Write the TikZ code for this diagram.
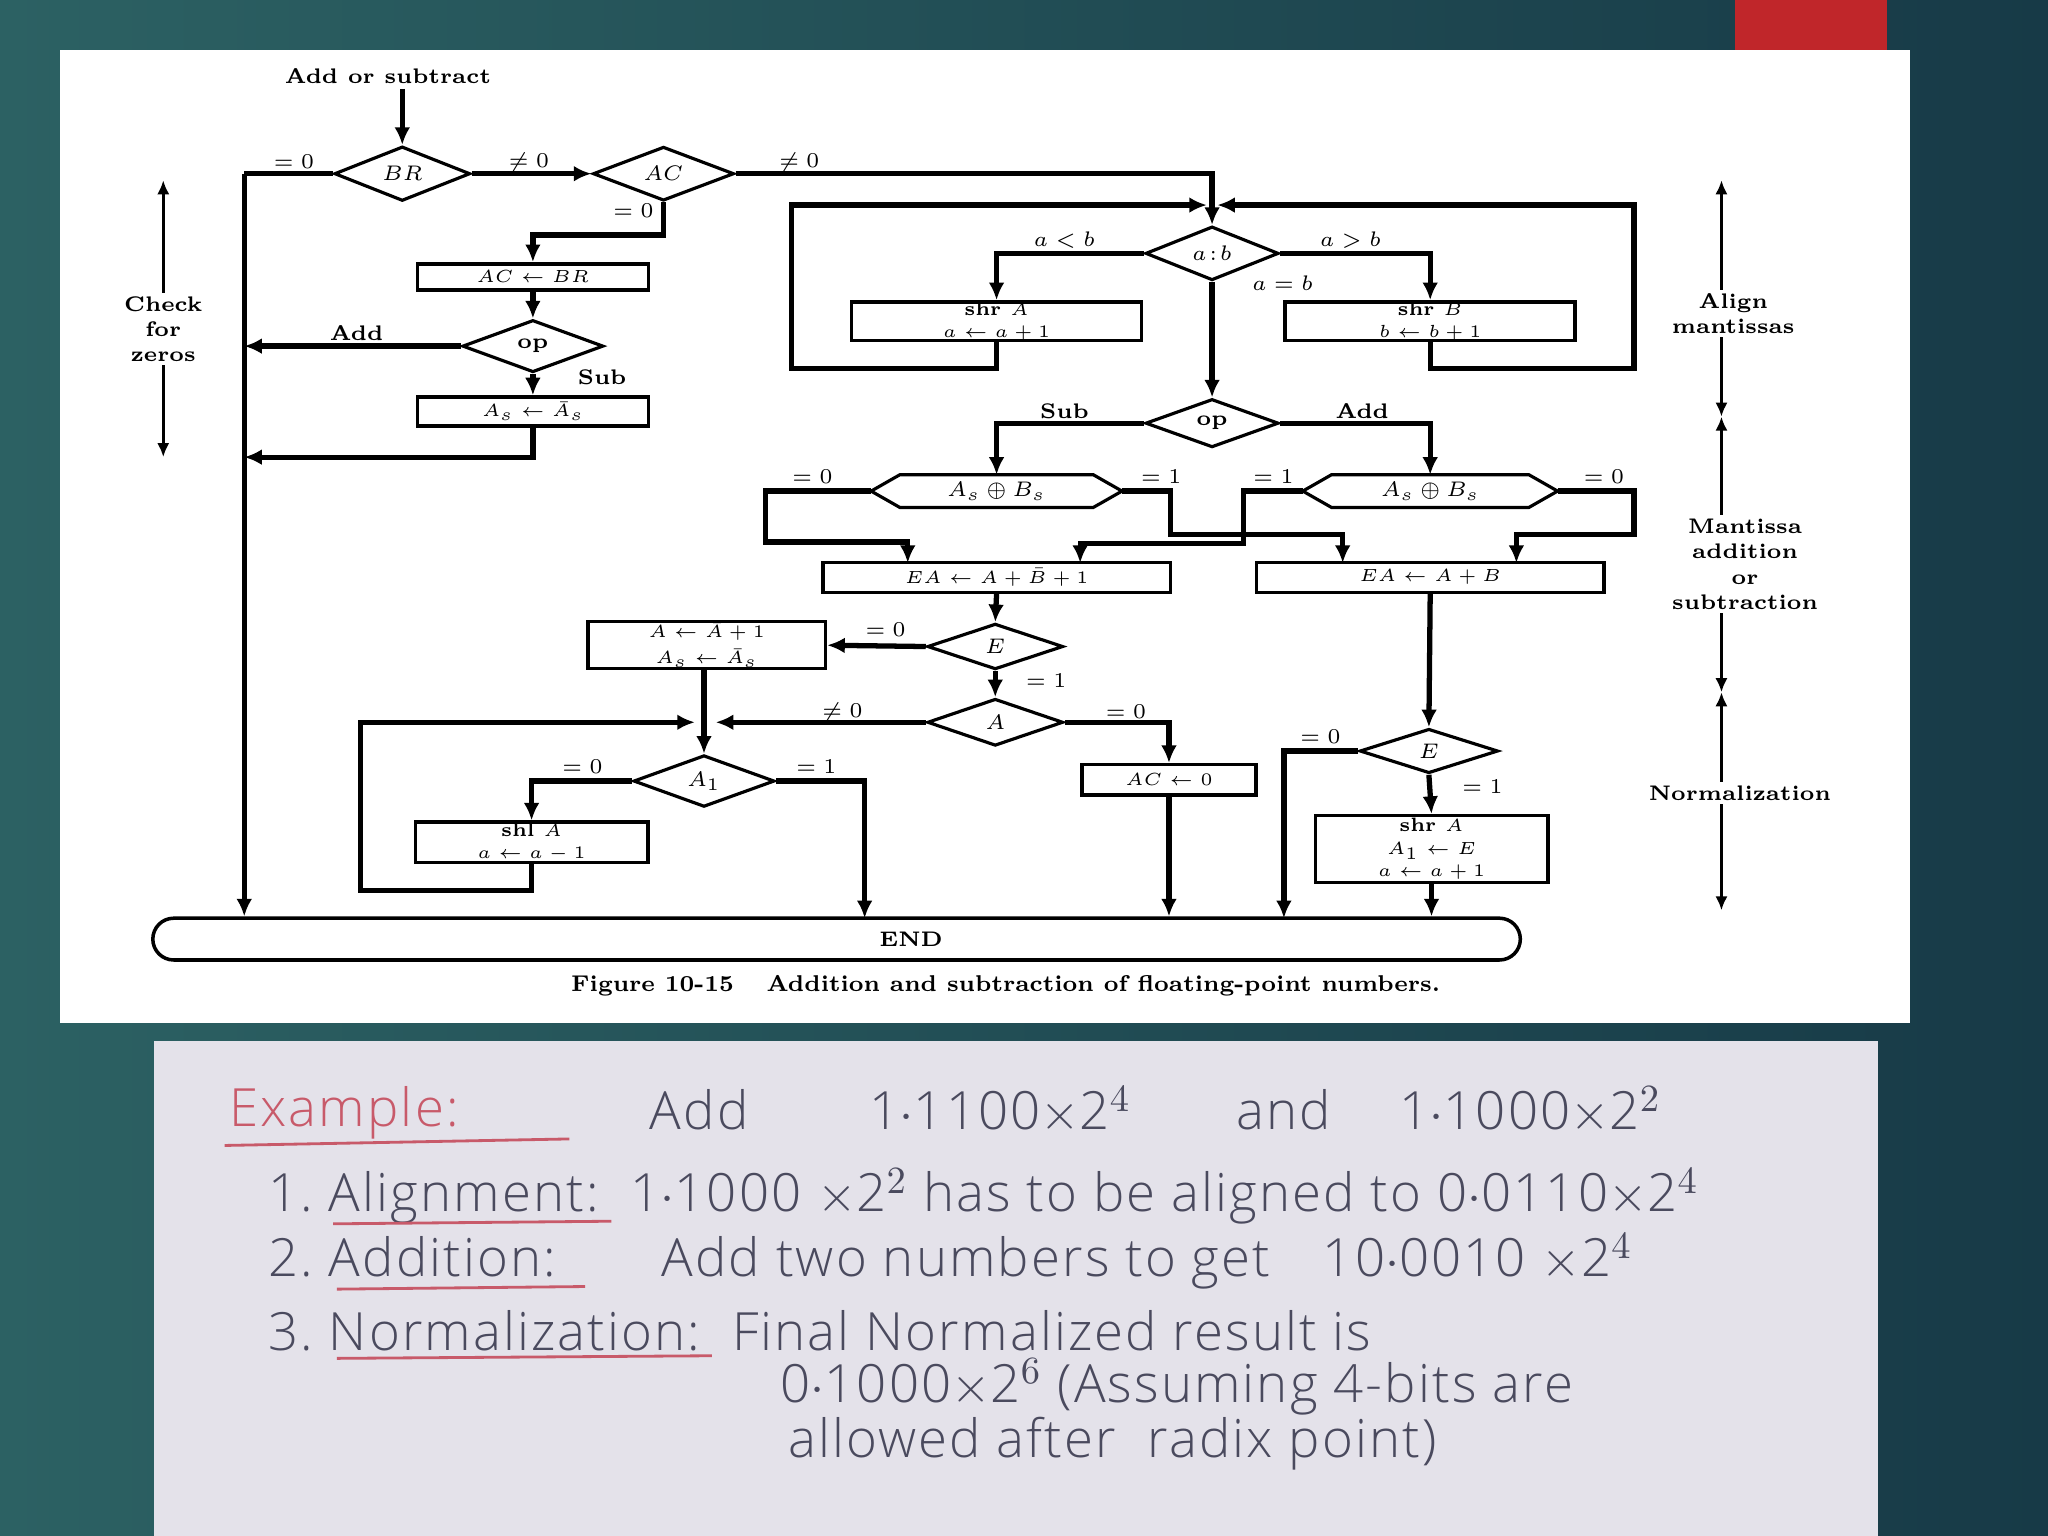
\documentclass[tikz,border=0pt]{standalone}
\usepackage{fontspec}
\usepackage{amsmath}
\newfontfamily\hand[LetterSpace=4]{Open Sans Light}
\usetikzlibrary{shapes.geometric,arrows.meta}
\newcommand\myu{0.013061cm}
\definecolor{bgA}{HTML}{2C6163}
\definecolor{bgB}{HTML}{173A47}
\definecolor{board}{HTML}{E4E2EA}
\definecolor{ink}{HTML}{4A4A5E}
\definecolor{redink}{HTML}{C85A6A}
\definecolor{redbar}{HTML}{C0262A}
\tikzset{
  flow/.style={line width=1.5pt,-{Latex[length=5pt,width=4.5pt]}},
  fl/.style={line width=1.5pt},
  dia/.style={diamond,draw,line width=0.9pt,inner sep=0pt,font=\bfseries\fontsize{6}{7}\selectfont},
  bx/.style={rectangle,draw,line width=1pt,inner sep=0pt,align=center,font=\bfseries\fontsize{5.5}{6.4}\selectfont},
  lb/.style={font=\bfseries\fontsize{6}{7}\selectfont,inner sep=1pt},
  side/.style={font=\bfseries\fontsize{6}{7.2}\selectfont,align=center,fill=white,inner sep=1pt},
  sarr/.style={line width=0.8pt,{Latex[length=4pt,width=3.5pt]}-{Latex[length=4pt,width=3.5pt]}},
  hw/.style={font=\hand\fontsize{15}{17}\selectfont,text=ink,anchor=west,inner sep=0pt},
}
\begin{document}
\begin{tikzpicture}[x=0.013061cm,y=-0.013061cm]
\useasboundingbox (0,0) rectangle (1568,1176);
\shade[left color=bgA,right color=bgB] (0,0) rectangle (1568,1176);
\fill[redbar] (1328,0) rectangle (1445,38);
\fill[white] (46,38) rectangle (1462,783);
\fill[board] (118,797) rectangle (1438,1176);

% ---- nodes
\node[lb] (title) at (297,58) {Add or subtract};
\coordinate (start) at (308,68);
\node[dia,minimum width=104*\myu,minimum height=40*\myu] (br) at (308,133) {$BR$};
\node[dia,minimum width=108*\myu,minimum height=40*\myu] (ac) at (508,133) {$AC$};
\node[bx,minimum width=177*\myu,minimum height=20*\myu] (acbr) at (408,212) {$AC \leftarrow BR$};
\node[dia,minimum width=108*\myu,minimum height=40*\myu] (op1) at (408,265) {op};
\node[bx,minimum width=177*\myu,minimum height=22*\myu] (asbox) at (408,315) {$A_s \leftarrow \bar{A}_s$};
\node[dia,minimum width=102*\myu,minimum height=36*\myu] (ab) at (928,194) {$a\!:\!b$};
\node[bx,minimum width=222*\myu,minimum height=28*\myu] (shra) at (763,246) {shr $A$\\$a \leftarrow a+1$};
\node[bx,minimum width=222*\myu,minimum height=28*\myu] (shrb) at (1095,246) {shr $B$\\$b \leftarrow b+1$};
\node[dia,minimum width=102*\myu,minimum height=37*\myu] (op2) at (928,324) {op};
\node[lb,minimum width=191*\myu,minimum height=24*\myu] (h1) at (763,376) {$A_s \oplus B_s$};
\node[lb,minimum width=194*\myu,minimum height=24*\myu] (h2) at (1095,376) {$A_s \oplus B_s$};
\draw[line width=0.9pt] (h1.west) -- ([xshift=22*\myu]h1.north west) -- ([xshift=-22*\myu]h1.north east) -- (h1.east) -- ([xshift=-22*\myu]h1.south east) -- ([xshift=22*\myu]h1.south west) -- cycle;
\draw[line width=0.9pt] (h2.west) -- ([xshift=22*\myu]h2.north west) -- ([xshift=-22*\myu]h2.north east) -- (h2.east) -- ([xshift=-22*\myu]h2.south east) -- ([xshift=22*\myu]h2.south west) -- cycle;
\node[bx,minimum width=266*\myu,minimum height=23*\myu] (ea1) at (763,442) {$EA \leftarrow A+\bar{B}+1$};
\node[bx,minimum width=266*\myu,minimum height=23*\myu] (ea2) at (1095,442) {$EA \leftarrow A+B$};
\node[dia,minimum width=104*\myu,minimum height=35*\myu] (e1) at (762,495) {$E$};
\node[bx,minimum width=182*\myu,minimum height=36*\myu,font=\bfseries\fontsize{5.5}{7.4}\selectfont] (comp) at (541,494) {$A \leftarrow \bar{A}+1$\\$A_s \leftarrow \bar{A}_s$};
\node[dia,minimum width=104*\myu,minimum height=36*\myu] (adia) at (762,553) {$A$};
\node[dia,minimum width=108*\myu,minimum height=35*\myu] (a1) at (539,598) {$A_1$};
\node[bx,minimum width=178*\myu,minimum height=31*\myu] (shl) at (407,645) {shl $A$\\$a \leftarrow a-1$};
\node[bx,minimum width=133*\myu,minimum height=23*\myu] (ac0) at (895,597) {$AC \leftarrow 0$};
\node[dia,minimum width=106*\myu,minimum height=34*\myu] (e2) at (1094,575) {$E$};
\node[bx,minimum width=178*\myu,minimum height=51*\myu] (shr3) at (1096,650) {shr $A$\\$A_1 \leftarrow E$\\$a \leftarrow a+1$};
\node[draw,line width=1pt,rounded corners=16*\myu,minimum width=1047*\myu,minimum height=32*\myu,inner sep=0pt,font=\bfseries\fontsize{6}{7}\selectfont] (end) at (640.5,719) {\hspace*{1.49cm}END};
\node[font=\bfseries\fontsize{6.5}{8}\selectfont] (cap) at (770,755) {Figure 10-15\quad\ Addition and subtraction of floating-point numbers.};

% ---- coordinates
\coordinate (bus) at (187,133);
\coordinate (c1) at (508,180);
\coordinate (c2) at (408,350);
\coordinate (la) at (606,282);
\coordinate (lb1) at (606,157);
\coordinate (ra) at (1251,282);
\coordinate (rb) at (1251,157);
\coordinate (mid) at (928,157);

% ---- connectors
\draw[flow] (start) -- (br.north);
\draw[fl] (br.west) -- (bus);
\draw[flow] (bus) -- (bus |- end.north);
\draw[flow] (br.east) -- (ac.west);
\draw[flow] (ac.east) -| (ab.north);
\draw[flow] (ac.south) -- (c1) -| (acbr.north);
\draw[flow] (acbr.south) -- (op1.north);
\draw[flow] (op1.west) -- (op1.west -| bus);
\draw[flow] (op1.south) -- (asbox.north);
\draw[flow] (asbox.south) -- (c2) -- (c2 -| bus);
\draw[flow] (ab.west) -| (shra.north);
\draw[flow] (ab.east) -| (shrb.north);
\draw[flow] (shra.south) -- (shra.south |- la) -- (la) -- (lb1) -- ([xshift=-4*\myu]mid);
\draw[flow] (shrb.south) -- (shrb.south |- ra) -- (ra) -- (rb) -- ([xshift=4*\myu]mid);
\draw[flow] (ab.south) -- (op2.north);
\draw[flow] (op2.west) -| (h1.north);
\draw[flow] (op2.east) -| (h2.north);
\draw[flow] (h1.west) -- (586,376) -- (586,415) -- (695,415) -- (695,431);
\draw[flow] (h1.east) -- (896,376) -- (896,409) -- (1028,409) -- (1028,431);
\draw[flow] (h2.west) -- (952,376) -- (952,416) -- (827,416) -- (827,431);
\draw[flow] (h2.east) -- (1251,376) -- (1251,409) -- (1161,409) -- (1161,431);
\draw[flow] (ea1.south) -- (e1.north);
\draw[flow] (e1.west) -- (comp.east);
\draw[flow] (e1.south) -- (adia.north);
\draw[flow] (comp.south -| a1.north) -- (a1.north);
\draw[flow] (adia.west) -- (548,553);
\draw[flow] (shl.south) -- (407,682) -- (276,682) -- (276,553) -- (532,553);
\draw[flow] (a1.west) -| (shl.north);
\draw[flow] (a1.east) -| (662,703);
\draw[flow] (adia.east) -| (ac0.north);
\draw[flow] (ac0.south) -- (ac0.south |- end.north);
\draw[flow] (ea2.south) -- (e2.north);
\draw[flow] (e2.west) -| (983,703);
\draw[flow] (e2.south) -- (shr3.north);
\draw[flow] (shr3.south) -- (shr3.south |- end.north);

% ---- branch labels
\node[lb] at (225,124) {$=0$};
\node[lb] at (405,124) {$\neq 0$};
\node[lb] at (612,124) {$\neq 0$};
\node[lb] at (485,161) {$=0$};
\node[lb] at (273,255) {Add};
\node[lb] at (461,289) {Sub};
\node[lb] at (815,184) {$a<b$};
\node[lb] at (1034,184) {$a>b$};
\node[lb] at (982,217) {$a=b$};
\node[lb] at (815,315) {Sub};
\node[lb] at (1043,315) {Add};
\node[lb] at (622,365) {$=0$};
\node[lb] at (889,365) {$=1$};
\node[lb] at (975,365) {$=1$};
\node[lb] at (1228,365) {$=0$};
\node[lb] at (678,482) {$=0$};
\node[lb] at (801,521) {$=1$};
\node[lb] at (645,545) {$\neq 0$};
\node[lb] at (862,545) {$=0$};
\node[lb] at (446,587) {$=0$};
\node[lb] at (625,587) {$=1$};
\node[lb] at (1011,564) {$=0$};
\node[lb] at (1135,602) {$=1$};

% ---- side annotations
\draw[sarr] (125,138) -- (125,350);
\node[side] at (125,252) {Check\\for\\zeros};
\draw[sarr] (1318,138) -- (1318,319);
\draw[sarr] (1318,319) -- (1318,530);
\draw[sarr] (1318,530) -- (1318,697);
\node[side] at (1327,240) {Align\\mantissas};
\node[side] at (1336,432) {Mantissa\\addition\\or\\subtraction};
\node[side] at (1332,607) {Normalization};

% ---- whiteboard
\node[hw,text=redink] at (175,852) {Example:};
\draw[redink,line width=0.8pt] (172,877) -- (436,872);
\node[hw] at (497,850) {Add\qquad\ 1$\cdot$1100$\times$2$^4$\qquad and\quad\ 1$\cdot$1000$\times$2$^2$};
\node[hw] at (205,916) {1.\ Alignment:\ \ 1$\cdot$1000 $\times$2$^2$ has to be aligned to 0$\cdot$0110$\times$2$^4$};
\draw[redink,line width=0.8pt] (255,937) -- (468,935);
\node[hw] at (205,966) {2.\ Addition:\qquad Add two numbers to get\quad 10$\cdot$0010 $\times$2$^4$};
\draw[redink,line width=0.8pt] (258,987) -- (448,985);
\node[hw] at (205,1019) {3.\ Normalization:\ \ Final Normalized result is};
\draw[redink,line width=0.8pt] (258,1040) -- (545,1038);
\node[hw] at (597,1062) {0$\cdot$1000$\times$2$^6$ (Assuming 4-bits are};
\node[hw] at (603,1105) {allowed after\ \ radix point)};
\end{tikzpicture}
\end{document}
